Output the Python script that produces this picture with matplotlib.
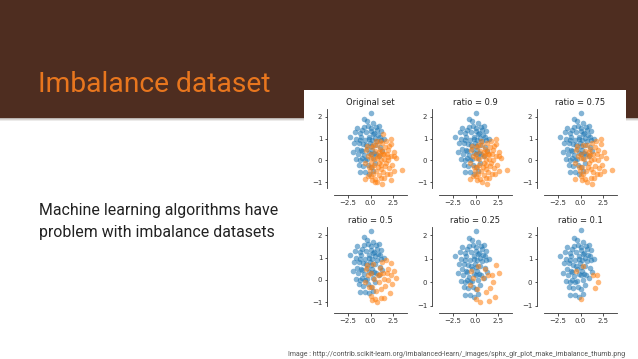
import matplotlib
matplotlib.use("Agg")
import matplotlib.pyplot as plt
from matplotlib.patches import Rectangle

# ---------------- data ----------------
panel_titles = ["Original set", "ratio = 0.9", "ratio = 0.75",
                "ratio = 0.5", "ratio = 0.25", "ratio = 0.1"]

blue_x = [0.0, -0.7, -1.5, -1.2, -2.2, 0.6, 1.1, -0.3, 0.3, -0.9, -0.5, 0.0, 0.4, 0.8,
          -0.2, -1.0, -1.6, -0.6, 0.2, 0.7, 1.2, -1.3, -0.8, -0.1, 0.5, 1.0, -1.5, -1.0,
          -0.4, 0.2, -1.4, -0.7, 0.0, 0.6, -1.6, -1.1, -0.4, 0.3, -1.3, -0.8, -1.1, -0.6,
          0.1, 0.5, -0.2, 0.9, -0.4, 0.1, -1.8, 1.5, -0.9, -0.2, 0.4, -0.5, -1.9, 1.3,
          0.9, -0.3, 0.7, -0.7, -1.2, 0.0, 0.5, -0.9, 1.0, -0.15, -1.7, 0.25, -0.6, 0.3]
blue_y = [2.2, 1.9, 1.5, 1.25, 1.1, 1.55, 1.35, 1.6, 1.7, 1.4, 1.3, 1.35, 1.25, 1.15,
          1.1, 1.1, 1.0, 0.95, 0.95, 0.9, 0.95, 0.8, 0.75, 0.8, 0.7, 0.6, 0.55, 0.5,
          0.55, 0.5, 0.3, 0.25, 0.3, 0.3, 0.05, 0.0, 0.05, 0.1, -0.2, -0.25, -0.55, -0.55,
          -0.3, -0.1, -0.6, 1.6, 1.8, 1.5, 0.8, 1.0, 0.1, 1.0, 0.35, 0.7, 0.4, 0.45,
          0.2, -0.2, 1.4, 1.55, 0.95, 0.65, 1.05, 0.45, 1.1, 0.35, 1.3, 1.2, 0.0, -0.5]

orange_x = [-0.5, 0.3, 1.4, 1.8, 1.9, 1.6, 0.0,
            2.3, 0.8, 1.2, 2.1, 0.5, -0.3, 1.0, 2.6, 0.2, 1.5, -0.6,
            0.9, 1.7, 0.1, 2.4, 0.6, 1.3, -0.2, 1.1, 2.8, 0.4, 1.9, 0.7, -0.4, 1.5, 0.2, 2.2, 1.0,
            3.4, 0.5, 1.25, -0.6, 2.0, 0.8, 1.6, 0.0, 2.6, 1.2, 0.3, 1.8, 0.7, 2.3, -0.1, 1.4, 0.9,
            2.6, 1.1, 0.4, 1.7, 0.6, 2.0, 0.2, 1.3, -0.3, 0.9, 1.5,
            2.2, 0.1, 1.0, 0.5, 1.9, 0.75, 1.35]
orange_y = [0.5, 0.7, 0.3, 0.3, 0.0, -0.25, -0.7,
            0.75, 0.2, -0.4, -0.6, -0.85, 0.2, 0.55, 0.4, -0.3, -0.8, -0.1,
            -0.1, 0.9, 0.3, -0.2, -0.5, 0.8, -0.3, -0.8, 0.1, 0.05, 0.5, -1.0, 0.65, 0.05, -0.9, 0.2, 0.25,
            -0.45, 0.45, -1.1, -0.85, -0.35, -0.3, 0.6, 0.1, -0.5, 0.0, -0.6, -0.6, 0.7, 1.0, -0.5, -0.55, 0.4,
            0.2, -0.2, -0.2, -0.1, 0.9, 0.65, 0.6, 0.45, -0.7, -0.65, 0.3,
            -0.9, -0.1, 0.9, -1.0, 0.15, 0.1, 1.2]

# number of orange (minority) samples kept in each panel
orange_kept = [70, 63, 52, 35, 18, 7]

x_ticks = [-2.5, 0.0, 2.5]
x_limits = [-4, 4]

# ---------------- figure ----------------
W, H = 638, 359
fig = plt.figure(figsize=(W / 100, H / 100), dpi=100)
fig.patch.set_facecolor("white")

def fx(px):
    return px / W

def fy(py):
    return 1 - py / H

def rect(x0, y0, x1, y1, color, z=0):
    fig.patches.append(Rectangle((fx(x0), fy(y1)), fx(x1) - fx(x0), fy(y0) - fy(y1),
                                 transform=fig.transFigure, facecolor=color,
                                 edgecolor="none", zorder=z))

# header band + soft shadow
rect(0, 0, W, 118, "#4E2D20")
for i, c in enumerate(["#b9b2ae", "#d8d4d2", "#ecebea"]):
    rect(0, 118 + i, W, 119 + i, c)

# white image panel
rect(304, 90, 626, 332, "white", z=1)

fig.text(fx(38), fy(92), "Imbalance dataset", fontsize=20.3, family="Roboto",
         color="#E8761E", va="baseline", ha="left")
fig.text(fx(39), fy(215), "Machine learning algorithms have", fontsize=11.4,
         family="Roboto", color="#222222", va="baseline", ha="left")
fig.text(fx(39), fy(237), "problem with imbalance datasets", fontsize=11.4,
         family="Roboto", color="#222222", va="baseline", ha="left")
fig.text(fx(288), fy(354),
         "Image : http://contrib.scikit-learn.org/imbalanced-learn/_images/sphx_glr_plot_make_imbalance_thumb.png",
         fontsize=5.0, family="Roboto", color="#555555", va="center", ha="left")

row_top = [109, 227]
ax_h = 79
ax_w = 73
col_left = [334, 439, 544]

for k, title in enumerate(panel_titles):
    r, c = divmod(k, 3)
    left = col_left[c]
    top = row_top[r]
    ax = fig.add_axes([fx(left), fy(top + ax_h), ax_w / W, ax_h / H], zorder=2)
    ax.patch.set_alpha(0)
    n = orange_kept[k]
    ax.scatter(blue_x, blue_y, s=16, color="#1f77b4", alpha=0.55, linewidths=0)
    ax.scatter(orange_x[:n], orange_y[:n], s=16, color="#ff7f0e", alpha=0.55, linewidths=0)
    ax.set_xlim(x_limits)
    ax.set_xticks(x_ticks)
    ax.set_xticklabels(["\u22122.5", "0.0", "2.5"])
    ax.set_yticks([-1, 0, 1, 2])
    ax.set_yticklabels(["\u22121", "0", "1", "2"])
    ax.spines["top"].set_visible(False)
    ax.spines["right"].set_visible(False)
    ax.spines["left"].set_position(("outward", 5))
    ax.spines["bottom"].set_position(("outward", 5))
    for s in ("left", "bottom"):
        ax.spines[s].set_linewidth(0.6)
        ax.spines[s].set_color("#333333")
    ax.tick_params(length=1.8, width=0.6, pad=1.6, labelsize=5, colors="#333333")
    ax.set_title(title, fontsize=6, pad=3, color="#222222")

fig.savefig("out.png", dpi=100)
